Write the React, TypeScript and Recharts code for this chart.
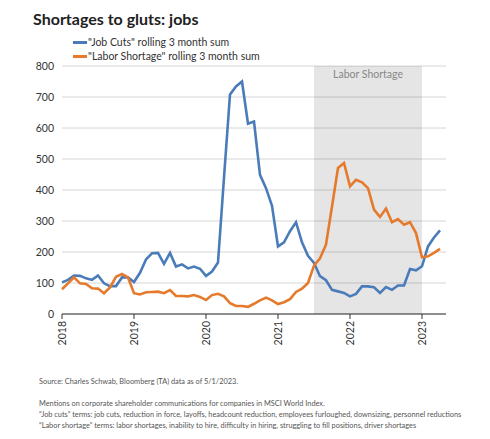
import { LineChart, Line, XAxis, YAxis, CartesianGrid, ReferenceArea, Legend } from 'recharts';

// monthly points, Jan 2018 .. Apr 2023 (month index 0..63)
const jobCuts = [
  102, 110, 124, 123, 115, 110, 124, 99, 90, 90, 118, 118,
  103, 133, 176, 196, 197, 162, 197, 153, 160, 147, 153, 146,
  123, 137, 166, 440, 708, 734, 750, 614, 621, 449, 406, 349,
  218, 231, 267, 296, 231, 188, 165, 122, 109, 78, 73, 68,
  57, 65, 89, 89, 86, 68, 87, 78, 92, 92, 145, 141,
  154, 218, 247, 270,
];

const laborShortage = [
  80, 99, 118, 99, 97, 83, 82, 67, 86, 120, 129, 118,
  67, 63, 70, 71, 72, 67, 77, 58, 58, 57, 61, 55,
  45, 61, 65, 57, 35, 26, 26, 23, 33, 44, 53, 44,
  32, 38, 48, 71, 82, 100, 156, 180, 224, 347, 471, 487,
  412, 433, 425, 406, 337, 313, 340, 296, 306, 288, 296, 261,
  183, 186, 197, 210,
];

const years = ['2018', '2019', '2020', '2021', '2022', '2023'];
const yTicks = [0, 100, 200, 300, 400, 500, 600, 700, 800];

const seriesNames = {
  jobs: '"Job Cuts" rolling 3 month sum',
  labor: '"Labor Shortage" rolling 3 month sum',
};

const data = jobCuts.map((v, i) => ({ m: i, jobs: v, labor: laborShortage[i] }));

const BLUE = '#4a7cba';
const ORANGE = '#e57a2c';
const FONT = 'Lato, "Open Sans", sans-serif';

function YearTick({ x, y, payload }: any) {
  return (
    <text
      x={x}
      y={y}
      transform={`rotate(-90 ${x} ${y})`}
      textAnchor="end"
      dy={4}
      fontSize={10.5}
      fill="#333"
      fontFamily={FONT}
    >
      {years[payload.value / 12]}
    </text>
  );
}

function LegendBox({ payload }: any) {
  return (
    <div style={{ fontFamily: FONT, fontSize: 10.5, color: '#333', lineHeight: '13.5px' }}>
      {(payload || []).map((p: any) => (
        <div key={p.value} style={{ display: 'flex', alignItems: 'center' }}>
          <span style={{ display: 'inline-block', width: 14, height: 3, background: p.color, marginRight: 1 }} />
          <span>{p.value}</span>
        </div>
      ))}
    </div>
  );
}

export default function App() {
  return (
    <div style={{ position: 'absolute', left: 0, top: 0, width: 490, height: 439, background: '#fff', fontFamily: FONT }}>
      <div style={{ position: 'absolute', left: 33, top: 9, fontSize: 16, fontWeight: 700, color: '#222' }}>
        Shortages to gluts: jobs
      </div>
      <LineChart width={490} height={439} data={data} margin={{ top: 66, right: 44, bottom: 95, left: 22 }}>
        <CartesianGrid vertical={false} stroke="#d6d6d6" />
        <ReferenceArea
          x1={42}
          x2={60}
          y1={0}
          y2={800}
          fill="#000"
          fillOpacity={0.1}
          stroke="none"
          label={{ value: 'Labor Shortage', position: 'insideTop', offset: 5, fill: '#888', fontSize: 10.5, fontFamily: FONT }}
        />
        <XAxis
          dataKey="m"
          type="number"
          domain={[0, 64]}
          ticks={[0, 12, 24, 36, 48, 60]}
          tick={<YearTick />}
          stroke="#333"
          tickSize={5}
          height={30}
          interval={0}
        />
        <YAxis
          domain={[0, 800]}
          ticks={yTicks}
          axisLine={false}
          tickLine={false}
          width={40}
          tick={{ fontSize: 10.5, fill: '#333', fontFamily: FONT }}
          tickMargin={2}
        />
        <Legend
          layout="vertical"
          align="center"
          verticalAlign="middle"
          content={<LegendBox />}
          wrapperStyle={{ top: 36, left: 73, width: 260 }}
        />
        <Line
          dataKey="jobs"
          name={seriesNames.jobs}
          stroke={BLUE}
          strokeWidth={2.6}
          dot={false}
          isAnimationActive={false}
        />
        <Line
          dataKey="labor"
          name={seriesNames.labor}
          stroke={ORANGE}
          strokeWidth={2.6}
          dot={false}
          isAnimationActive={false}
        />
      </LineChart>
      <div style={{ position: 'absolute', left: 39, top: 376, fontSize: 7.35, color: '#555', lineHeight: '11.3px' }}>
        <div>Source: Charles Schwab, Bloomberg (TA) data as of 5/1/2023.</div>
        <div style={{ marginTop: 10.5 }}>Mentions on corporate shareholder communications for companies in MSCI World Index.</div>
        <div>“Job cuts” terms: job cuts, reduction in force, layoffs, headcount reduction, employees furloughed, downsizing, personnel reductions</div>
        <div>“Labor shortage” terms: labor shortages, inability to hire, difficulty in hiring, struggling to fill positions, driver shortages</div>
      </div>
    </div>
  );
}
